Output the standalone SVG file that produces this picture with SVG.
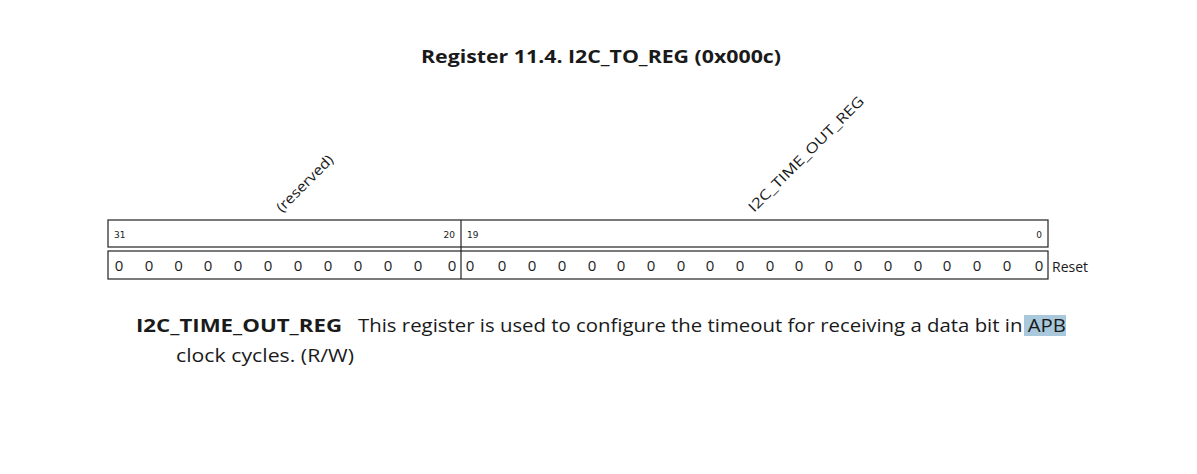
<svg xmlns="http://www.w3.org/2000/svg" width="1197" height="474" viewBox="0 0 1197 474">
<style>
text{font-family:"Open Sans","Liberation Sans",sans-serif;fill:#1a1a1a}
.z{font-size:15px;text-anchor:middle}
.b{font-size:9px;font-family:"DejaVu Sans",sans-serif}
.f{font-size:14px}
.box{fill:none;stroke:#222;stroke-width:1.2}
</style>
<rect width="1197" height="474" fill="#fff"/>
<g id="title"><text x="421" y="63" font-size="18" font-weight="bold" font-family="Liberation Sans" textLength="360" lengthAdjust="spacingAndGlyphs">Register 11.4. I2C_TO_REG (0x000c)</text></g>
<g id="labels">
<text class="f" transform="translate(282,213) rotate(-45)" textLength="74" lengthAdjust="spacingAndGlyphs">(reserved)</text>
<text class="f" transform="translate(754,213) rotate(-45)" textLength="157" lengthAdjust="spacingAndGlyphs">I2C_TIME_OUT_REG</text>
</g>
<g id="register">
<rect class="box" x="108" y="220" width="940" height="27"/>
<rect class="box" x="108" y="251" width="940" height="28"/>
<line class="box" x1="461" y1="220" x2="461" y2="279"/>
<text class="b" x="114" y="238">31</text>
<text class="b" x="455" y="238" text-anchor="end">20</text>
<text class="b" x="467" y="238">19</text>
<text class="b" x="1042" y="238" text-anchor="end">0</text>
<g id="zeros">
<text class="z" x="119" y="271">0</text><text class="z" x="149" y="271">0</text><text class="z" x="178.5" y="271">0</text><text class="z" x="208" y="271">0</text><text class="z" x="238" y="271">0</text><text class="z" x="268" y="271">0</text><text class="z" x="298" y="271">0</text><text class="z" x="328" y="271">0</text><text class="z" x="358" y="271">0</text><text class="z" x="388" y="271">0</text><text class="z" x="418" y="271">0</text><text class="z" x="452" y="271">0</text>
<text class="z" x="470" y="271">0</text><text class="z" x="502" y="271">0</text><text class="z" x="532" y="271">0</text><text class="z" x="562" y="271">0</text><text class="z" x="592" y="271">0</text><text class="z" x="621" y="271">0</text><text class="z" x="651" y="271">0</text><text class="z" x="681" y="271">0</text><text class="z" x="710" y="271">0</text><text class="z" x="740" y="271">0</text><text class="z" x="770" y="271">0</text><text class="z" x="799" y="271">0</text><text class="z" x="829" y="271">0</text><text class="z" x="858" y="271">0</text><text class="z" x="888" y="271">0</text><text class="z" x="918" y="271">0</text><text class="z" x="947" y="271">0</text><text class="z" x="977" y="271">0</text><text class="z" x="1007" y="271">0</text><text class="z" x="1039" y="271">0</text>
</g>
<text x="1052" y="272" font-size="14">Reset</text>
</g>
<g id="description">
<rect x="1024" y="315" width="42" height="21" fill="#a9c8dc"/>
<text x="136" y="332" font-size="18" font-family="Liberation Sans" font-weight="bold" textLength="206" lengthAdjust="spacingAndGlyphs">I2C_TIME_OUT_REG</text>
<text x="358" y="332" font-size="18" font-family="Liberation Sans" textLength="708" lengthAdjust="spacingAndGlyphs">This register is used to configure the timeout for receiving a data bit in APB</text>
<text x="176" y="362" font-size="18" font-family="Liberation Sans" textLength="178" lengthAdjust="spacingAndGlyphs">clock cycles. (R/W)</text>
</g>
</svg>
